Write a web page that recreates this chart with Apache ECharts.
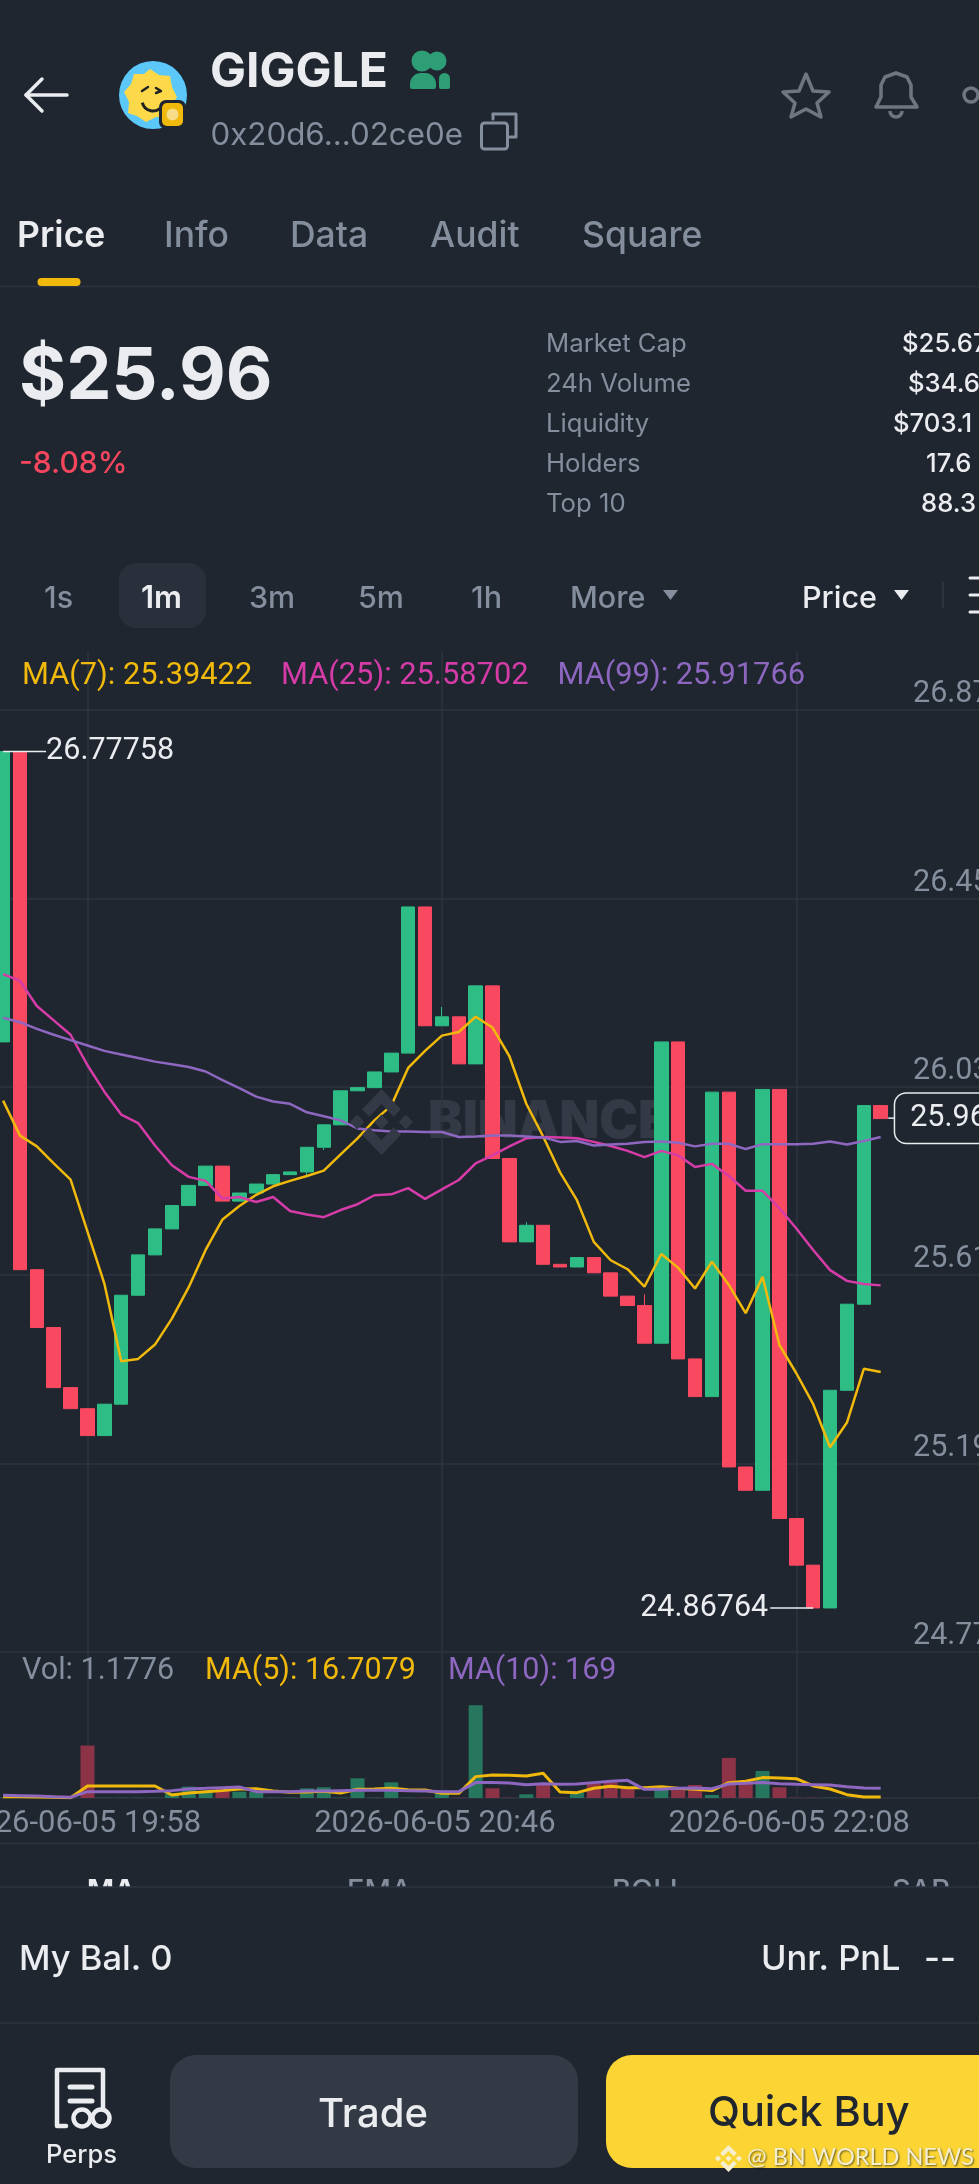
<!DOCTYPE html>
<html><head><meta charset="utf-8">
<style>html,body{margin:0;padding:0;background:#1f2630;overflow:hidden}#c{width:979px;height:2184px}</style>
<script src="https://cdn.jsdelivr.net/npm/echarts@6/dist/echarts.min.js"></script>
</head><body><div id="c"></div>
<script>
const tickIndex=[5,26,47];
const tickLabels=['2026-06-05 19:58','2026-06-05 20:46','2026-06-05 22:08'];
const priceTicks=[24.77,25.19,25.61,26.03,26.45,26.87];
const opens=[26.130,26.7776,25.622,25.493,25.359,25.312,25.252,25.322,25.565,25.655,25.713,25.765,25.810,25.853,25.775,25.793,25.813,25.834,25.840,25.895,25.945,26.021,26.028,26.063,26.105,26.431,26.166,26.186,26.081,26.255,25.870,25.684,25.721,25.634,25.628,25.649,25.615,25.563,25.542,25.458,26.130,25.423,25.339,26.018,25.182,25.130,26.024,25.067,24.963,24.8676,25.353,25.545,25.988];
const closes=[26.7776,25.622,25.493,25.359,25.312,25.252,25.322,25.565,25.655,25.713,25.765,25.810,25.853,25.775,25.793,25.813,25.834,25.840,25.895,25.945,26.021,26.028,26.063,26.105,26.431,26.166,26.186,26.081,26.255,25.870,25.684,25.721,25.634,25.628,25.649,25.615,25.563,25.542,25.458,26.130,25.423,25.339,26.018,25.182,25.130,26.024,25.067,24.963,24.8676,25.353,25.545,25.988,25.959];
const lows=[26.130,25.622,25.493,25.359,25.312,25.252,25.252,25.322,25.565,25.655,25.713,25.765,25.810,25.775,25.775,25.793,25.813,25.834,25.832,25.889,25.945,26.021,26.028,26.063,26.105,26.166,26.166,26.081,26.081,25.870,25.684,25.684,25.634,25.628,25.628,25.615,25.563,25.542,25.458,25.458,25.423,25.339,25.339,25.182,25.130,25.130,25.067,24.963,24.8676,24.8676,25.353,25.545,25.959];
const highs=[26.7776,26.7776,25.622,25.493,25.359,25.312,25.322,25.565,25.655,25.713,25.765,25.810,25.853,25.853,25.793,25.813,25.834,25.840,25.895,25.945,26.021,26.028,26.063,26.105,26.431,26.431,26.208,26.186,26.255,26.255,25.870,25.728,25.721,25.634,25.649,25.649,25.615,25.563,25.567,26.130,26.130,25.423,26.018,26.018,25.182,26.024,26.024,25.067,24.963,25.353,25.545,25.988,25.988];
const ma7=[25.999,25.921,25.897,25.859,25.823,25.707,25.591,25.418,25.423,25.455,25.513,25.583,25.666,25.734,25.764,25.789,25.808,25.820,25.831,25.843,25.879,25.915,25.955,25.988,26.072,26.110,26.144,26.152,26.186,26.162,26.098,25.992,25.919,25.839,25.777,25.684,25.643,25.623,25.584,25.657,25.626,25.580,25.640,25.588,25.525,25.606,25.454,25.391,25.322,25.226,25.281,25.401,25.394];
const ma25=[26.281,26.266,26.210,26.178,26.146,26.078,26.019,25.968,25.949,25.899,25.855,25.829,25.820,25.781,25.784,25.773,25.784,25.753,25.745,25.739,25.755,25.768,25.788,25.790,25.804,25.780,25.801,25.822,25.859,25.877,25.897,25.915,25.918,25.917,25.915,25.907,25.898,25.887,25.873,25.887,25.877,25.851,25.858,25.831,25.798,25.798,25.759,25.714,25.666,25.621,25.597,25.590,25.587];
const ma99=[26.184,26.174,26.159,26.146,26.134,26.122,26.110,26.102,26.094,26.086,26.080,26.074,26.064,26.045,26.027,26.008,25.997,25.992,25.973,25.964,25.955,25.937,25.933,25.930,25.930,25.929,25.929,25.918,25.919,25.921,25.921,25.919,25.917,25.907,25.909,25.899,25.901,25.903,25.907,25.908,25.905,25.897,25.903,25.903,25.891,25.902,25.902,25.902,25.903,25.908,25.901,25.909,25.918];
const volumes=[6,6,5,5,4,911,4,4,4,4,81,197,110,168,110,110,5,5,168,186,5,342,5,272,5,5,81,5,1612,168,5,64,255,5,93,255,272,168,5,168,168,226,52,696,284,470,186,5,5,5,5,5,1.18];
const volMa5=[23,23,17,12,6,209,209,209,209,209,52,87,110,128,157,162,122,99,104,116,87,151,157,168,145,139,81,81,371,400,394,383,429,104,93,168,203,180,180,197,168,151,128,267,290,354,348,336,209,157,58,17,16.7];
const volMa10=[46,41,35,23,12,110,110,110,110,116,128,157,168,180,191,110,110,110,122,122,128,133,133,133,128,122,110,110,267,267,261,232,249,238,244,267,290,307,151,151,168,174,162,244,255,267,249,238,232,226,197,174,169];
const highPrice=26.77758, highIdx=0, lowPrice=24.86764, lowIdx=48, lastPrice=25.96, lastIdx=52;

const BG='#1f2630',GRID='#2e343f',GREY='#848e9c',WHITE='#eaecef',GREEN='#2ebd85',RED='#f84960',YEL='#f0b90b',PINK='#d63ca8',PUR='#8d67c0';
const UI='Inter, "Noto Sans", sans-serif', CH='Roboto, sans-serif';
const slotCount=59, slot=16.877, gridLeft=3.1-slot/2;
const categories=Array.from({length:slotCount},(_,i)=>{const k=tickIndex.indexOf(i);return k>=0?tickLabels[k]:'m'+i;});
const isTick=i=>tickIndex.indexOf(i)>=0;

const g=[];
function t(text,x,base,size,fill,weight,family,align,z){g.push({type:'text',z:z||5,style:{text,x,y:base-0.35*size+2.5,fill,font:(weight||'normal')+' '+size+'px '+(family||UI),textAlign:align||'left',verticalAlign:'middle'}});}
function rr(x,y,w,h,r,fill,z){g.push({type:'rect',z:z||4,shape:{x,y,width:w,height:h,r},style:{fill}});}
function ln(pts,stroke,w,z){g.push({type:'polyline',z:z||5,shape:{points:pts},style:{stroke,lineWidth:w,fill:null,lineCap:'round',lineJoin:'round'}});}
function circ(cx,cy,r,fill,stroke,w,z){g.push({type:'circle',z:z||5,shape:{cx,cy,r},style:{fill:fill||null,stroke:stroke||null,lineWidth:w||0}});}
function poly(pts,fill,z){g.push({type:'polygon',z:z||5,shape:{points:pts},style:{fill}});}
const logoParts=[[[38.73,53.2],[63.32,28.62],[87.92,53.22],[102.22,38.91],[63.32,0],[24.42,38.9]],[[0,63.31],[14.3,49],[28.61,63.31],[14.3,77.61]],[[38.73,73.41],[63.32,98],[87.92,73.4],[102.23,87.69],[63.33,126.6],[24.42,87.72]],[[98,63.31],[112.31,49],[126.61,63.3],[112.3,77.62]],[[77.83,63.3],[63.32,48.78],[48.81,63.28],[63.32,77.78]]];
function logo(x,y,w,h,fill,z){logoParts.forEach(p=>poly(p.map(q=>[x+q[0]/126.61*w,y+q[1]/126.61*h]),fill,z));}

// watermark behind the candles
logo(350,1089,63,66,'#333a45',0);
g.push({type:'text',z:0,style:{text:'BINANCE',x:428,y:1122,fill:'#333a45',font:'900 52px Inter, sans-serif',textAlign:'left',verticalAlign:'middle'}});

// header
ln([[67,95],[26,95]],WHITE,3.5);ln([[42,79],[26,95],[42,111]],WHITE,3.5);
circ(153,95,34,'#5cc8fa');
poly([[150,69],[159,75],[170,76],[172,87],[177,97],[171,106],[168,118],[156,117],[146,122],[137,116],[128,113],[129,102],[124,92],[131,84],[134,74],[144,74]],'#fdd94a');
ln([[142,91],[148,87]],'#222',2.5);ln([[156,88],[161,91],[156,93]],'#222',2.5);
g.push({type:'arc',z:5,shape:{cx:153,cy:100,r:11,startAngle:0.2,endAngle:2.9},style:{stroke:'#222',lineWidth:3,fill:null}});
rr(159,100,27,29,7,'#1f2630',5);rr(162,103,21,23,5,YEL,6);circ(172.5,114.5,6,'#f7dd88',null,0,7);
t('GIGGLE',210,87,48,WHITE,'bold');
circ(422,61,10.5,'#2e9e76');circ(437,61,9.5,'#2e9e76');
g.push({type:'rect',z:5,shape:{x:410,y:73,width:26,height:16,r:[11,11,2,2]},style:{fill:'#2e9e76'}});
g.push({type:'rect',z:5,shape:{x:439,y:73,width:11,height:16,r:[9,9,2,2]},style:{fill:'#2e9e76'}});
t('0x20d6...02ce0e',210.5,144,31.3,GREY);
g.push({type:'rect',z:5,shape:{x:481.5,y:123,width:26,height:26,r:3},style:{stroke:GREY,lineWidth:3,fill:null}});
ln([[493,114],[516,114],[516,137],[510,137]],GREY,3);ln([[493,114],[493,119]],GREY,3);
g.push({type:'polygon',z:5,shape:{points:[[806,74],[813,91],[829,92],[817,103],[821,117],[806,109],[791,117],[795,103],[783,92],[799,91]]},style:{stroke:'#6f7682',lineWidth:3.5,fill:null,lineJoin:'round'}});
ln([[876,107],[881,97],[881,85],[885,77],[896,73],[907,77],[911,85],[911,97],[917,107],[876,107]],'#6f7682',3.5);
g.push({type:'arc',z:5,shape:{cx:896,cy:111,r:6,startAngle:0,endAngle:Math.PI},style:{stroke:'#6f7682',lineWidth:3.5,fill:null}});
circ(971,95,7,null,'#6f7682',3.5);

// tabs
t('Price',17,246,35.5,WHITE,'600');
[['Info',164],['Data',290],['Audit',430],['Square',582]].forEach(a=>t(a[0],a[1],246,35.5,GREY,'500'));
rr(37.5,278,43,8,4,YEL);
ln([[0,286.5],[979,286.5]],GRID,1.5,3);

// price block
t('$25.96',19,400,72,WHITE,'bold');
t('-8.08%',19,472,30,'#f6465d','500');
[['Market Cap',351],['24h Volume',391],['Liquidity',431],['Holders',471],['Top 10',511]].forEach(a=>t(a[0],546,a[1],25.7,GREY));
[['$25.67',902,351],['$34.6',908,391],['$703.1',893,431],['17.6',926,471],['88.3',921,511]].forEach(a=>t(a[0],a[1],a[2],25.7,WHITE,'500'));

// intervals
rr(119,563,87,65,17,'#2a303b');
t('1s',44,607,30.5,GREY,'500');t('1m',141,607,31,WHITE,'600');t('3m',249,607,30.5,GREY,'500');t('5m',358,607,30.5,GREY,'500');t('1h',471,607,30.5,GREY,'500');t('More',570,607,30.5,GREY,'500');
poly([[663,590],[678,590],[670.5,600]],GREY);
t('Price',802,607,30.5,WHITE,'500');poly([[894,590],[909,590],[901.5,600]],WHITE);
ln([[943,582],[943,608]],'#333a45',1.5);
[578,595,612].forEach(y=>ln([[970,y],[979,y]],WHITE,3));

// legends
t('MA(7): 25.39422',22,685,30.8,YEL,'normal',CH);
t('MA(25): 25.58702',281,685,30.8,PINK,'normal',CH);
t('MA(99): 25.91766',557.5,685,30.8,PUR,'normal',CH);
t('Vol: 1.1776',22,1680,30.5,GREY,'normal',CH);
t('MA(5): 16.7079',205,1680,30.5,YEL,'normal',CH);
t('MA(10): 169',448,1680,30.5,PUR,'normal',CH);

// indicator strip, cut off by the panel below
ln([[0,1843.5],[979,1843.5]],GRID,1.5,3);
t('MA',87,1899,29,WHITE,'bold',UI,'left',3);t('EMA',347,1899,29,GREY,'500',UI,'left',3);t('BOLL',612,1899,29,GREY,'500',UI,'left',3);t('SAR',892,1899,29,GREY,'500',UI,'left',3);
rr(0,1887,979,297,0,BG,4);
ln([[0,1887],[979,1887]],GRID,1.5,5);

// footer
t('My Bal. 0',19,1969,34.5,WHITE,'500');
t('Unr. PnL',761,1969,34.5,WHITE,'500');t('--',924,1969,34.5,WHITE,'500');
ln([[0,2023],[979,2023]],GRID,1.5,5);
ln([[57,2122],[57,2070],[103,2070],[103,2108]],WHITE,4.5);
ln([[57,2122],[57,2126],[66,2126]],WHITE,4.5);
ln([[70,2087],[92,2087]],WHITE,5);ln([[70,2101],[92,2101]],WHITE,5);
circ(82,2118,8.5,null,WHITE,4.5);circ(101,2118,8.5,null,WHITE,4.5);
t('Perps',81.5,2162,25.5,WHITE,'500',UI,'center');
rr(170,2055,408,113,26,'#333a46');
t('Trade',373,2126,40,WHITE,'500',UI,'center');
rr(606,2055,400,113,26,'#fcd535');
t('Quick Buy',708,2126,41.5,'#202630','500');
logo(715,2145,27,27,'#f5efd0',8);
g.push({type:'text',z:8,style:{text:'@ BN WORLD NEWS',x:747,y:2157,fill:'#f5efd0',font:'23.5px Lato, sans-serif',verticalAlign:'middle',textShadowBlur:2,textShadowColor:'rgba(0,0,0,.6)',textShadowOffsetX:1,textShadowOffsetY:1}});

const lineStyle=(c,w)=>({color:c,width:w||2.5});
const maSeries=(name,data,c,x,y,w)=>({name,type:'line',data,xAxisIndex:x,yAxisIndex:y,showSymbol:false,smooth:false,lineStyle:lineStyle(c,w),silent:true,z:4,animation:false});

const chart=echarts.init(document.getElementById('c'),null,{width:979,height:2184});
chart.setOption({
  animation:false,backgroundColor:BG,
  grid:[{left:gridLeft,width:slotCount*slot,top:650.7,height:1001,outerBoundsMode:'none'},{left:gridLeft,width:slotCount*slot,top:1651.7,height:146.3,outerBoundsMode:'none'}],
  xAxis:[
   {type:'category',gridIndex:0,data:categories,boundaryGap:true,axisLine:{show:false},axisTick:{show:false},axisLabel:{show:false},
    splitLine:{show:true,alignWithLabel:true,interval:(i)=>isTick(i),lineStyle:{color:GRID,width:1.5}}},
   {type:'category',gridIndex:1,data:categories,boundaryGap:true,axisLine:{show:true,lineStyle:{color:GRID,width:1.5}},axisTick:{show:false},
    splitLine:{show:true,alignWithLabel:true,interval:(i)=>isTick(i),lineStyle:{color:GRID,width:1.5}},
    axisLabel:{show:true,interval:(i)=>isTick(i),hideOverlap:false,color:GREY,fontFamily:CH,fontSize:31,margin:11,padding:[0,14,0,0]}}
  ],
  yAxis:[
   {type:'value',gridIndex:0,position:'right',min:24.77,max:27.0025,scale:true,axisLine:{show:false},axisTick:{show:false,customValues:priceTicks},
    splitLine:{show:true,lineStyle:{color:GRID,width:1.5}},
    axisLabel:{inside:true,customValues:priceTicks,align:'left',verticalAlign:'bottom',margin:-(979-913)+ (gridLeft+slotCount*slot-979)+132,color:GREY,fontFamily:CH,fontSize:30.5,padding:[0,0,0,0],formatter:v=>v.toFixed(2)}},
   {type:'value',gridIndex:1,min:0,max:2540,axisLine:{show:false},axisTick:{show:false},axisLabel:{show:false},splitLine:{show:false}}
  ],
  graphic:{elements:g},
  series:[
   {name:'Price',type:'candlestick',xAxisIndex:0,yAxisIndex:0,barWidth:14,z:3,silent:true,
    data:opens.map((o,i)=>[o,closes[i],lows[i],highs[i]]),
    itemStyle:{color:GREEN,color0:RED,borderColor:GREEN,borderColor0:RED,borderWidth:1},
    markPoint:{silent:true,animation:false,data:[
      {coord:[highIdx,highPrice],symbol:'rect',symbolSize:[43,1.5],symbolOffset:[21.5,0],itemStyle:{color:WHITE},
       label:{show:true,position:'right',distance:0,formatter:String(highPrice),color:WHITE,fontFamily:CH,fontSize:30.5}},
      {coord:[lowIdx,lowPrice],symbol:'rect',symbolSize:[43,1.5],symbolOffset:[-21.5,0],itemStyle:{color:WHITE},
       label:{show:true,position:'left',distance:2,formatter:String(lowPrice),color:WHITE,fontFamily:CH,fontSize:30.5}},
      {coord:[lastIdx,lastPrice],symbol:'rect',symbolSize:[6,1.5],symbolOffset:[10.5,0],itemStyle:{color:WHITE},
       label:{show:true,position:'right',distance:1,formatter:lastPrice.toFixed(2),color:WHITE,fontFamily:CH,fontSize:30.5,backgroundColor:BG,borderColor:WHITE,borderWidth:1.5,borderRadius:11,padding:[9,60,9,15]}}
    ]}},
   maSeries('MA7',ma7,YEL,0,0),maSeries('MA25',ma25,PINK,0,0),maSeries('MA99',ma99,PUR,0,0),
   {name:'Vol',type:'bar',xAxisIndex:1,yAxisIndex:1,barWidth:14,silent:true,z:2,
    data:volumes.map((v,i)=>({value:v,itemStyle:{color:closes[i]>=opens[i]?'#27775f':'#8c3347'}}))},
   maSeries('VolMA5',volMa5,YEL,1,1,3),maSeries('VolMA10',volMa10,PUR,1,1,3)
  ]
});
</script></body></html>
